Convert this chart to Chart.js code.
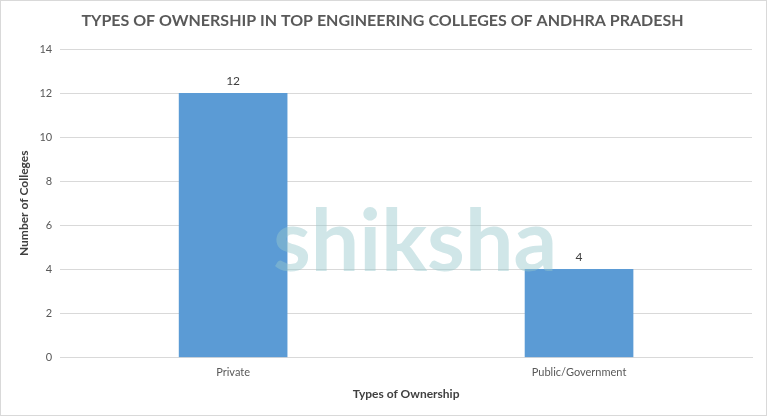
<!DOCTYPE html>
<html><head><meta charset="utf-8">
<script src="https://cdn.jsdelivr.net/npm/chart.js@4"></script>
<style>
html,body{margin:0;padding:0;background:#fff;}
#wrap{position:absolute;left:0;top:0;width:765px;height:414px;border:1px solid #d9d9d9;}
</style></head><body>
<div id="wrap"><canvas id="c"></canvas></div>
<script>
const categories = ["Private", "Public/Government"];
const collegeCounts = [12, 4];
const yTicks = [0, 2, 4, 6, 8, 10, 12, 14];

const FONT = "Lato, 'Open Sans', sans-serif";

const labelPlugin = {
  id: 'labels',
  afterDatasetsDraw(chart) {
    const ctx = chart.ctx;
    // watermark
    ctx.save();
    ctx.fillStyle = 'rgba(150,200,205,0.45)';
    ctx.font = "bold 86px " + FONT;
    ctx.textAlign = 'left';
    ctx.textBaseline = 'alphabetic';
    ctx.fillText('shiksha', 272, 270);
    ctx.restore();
    const meta = chart.getDatasetMeta(0);
    ctx.save();
    ctx.fillStyle = '#404040';
    ctx.font = "12px " + FONT;
    ctx.textAlign = 'center';
    ctx.textBaseline = 'bottom';
    meta.data.forEach((bar, i) => {
      ctx.fillText(String(collegeCounts[i]), bar.x, bar.y - 6);
    });
    ctx.restore();
  }
};

new Chart(document.getElementById('c'), {
  type: 'bar',
  data: {
    labels: categories,
    datasets: [{
      data: collegeCounts,
      backgroundColor: '#5b9bd5',
      barThickness: 108
    }]
  },
  options: {
    responsive: true,
    maintainAspectRatio: false,
    animation: false,
    layout: { padding: { left: 12, right: 14, top: 6, bottom: 10 } },
    plugins: {
      legend: { display: false },
      tooltip: { enabled: false },
      title: {
        display: true,
        text: 'TYPES OF OWNERSHIP IN TOP ENGINEERING COLLEGES OF ANDHRA PRADESH',
        color: '#595959',
        font: { family: FONT, size: 16, weight: 'bold' },
        padding: { top: 4, bottom: 19 }
      }
    },
    scales: {
      x: {
        grid: { display: false },
        border: { display: true, color: '#d9d9d9' },
        ticks: { color: '#595959', font: { family: FONT, size: 11 }, padding: 0 },
        title: {
          display: true, text: 'Types of Ownership', color: '#404040',
          font: { family: FONT, size: 12, weight: 'bold' }, padding: { top: 8 }
        }
      },
      y: {
        min: 0, max: 14,
        afterBuildTicks(axis) { axis.ticks = yTicks.map(v => ({ value: v })); },
        grid: { color: '#d9d9d9', drawTicks: false },
        border: { display: false },
        ticks: { color: '#595959', font: { family: FONT, size: 11 }, padding: 8 },
        title: {
          display: true, text: 'Number of Colleges', color: '#404040',
          font: { family: FONT, size: 12, weight: 'bold' }, padding: { bottom: 0 }
        }
      }
    }
  },
  plugins: [labelPlugin]
});
</script>
</body></html>
